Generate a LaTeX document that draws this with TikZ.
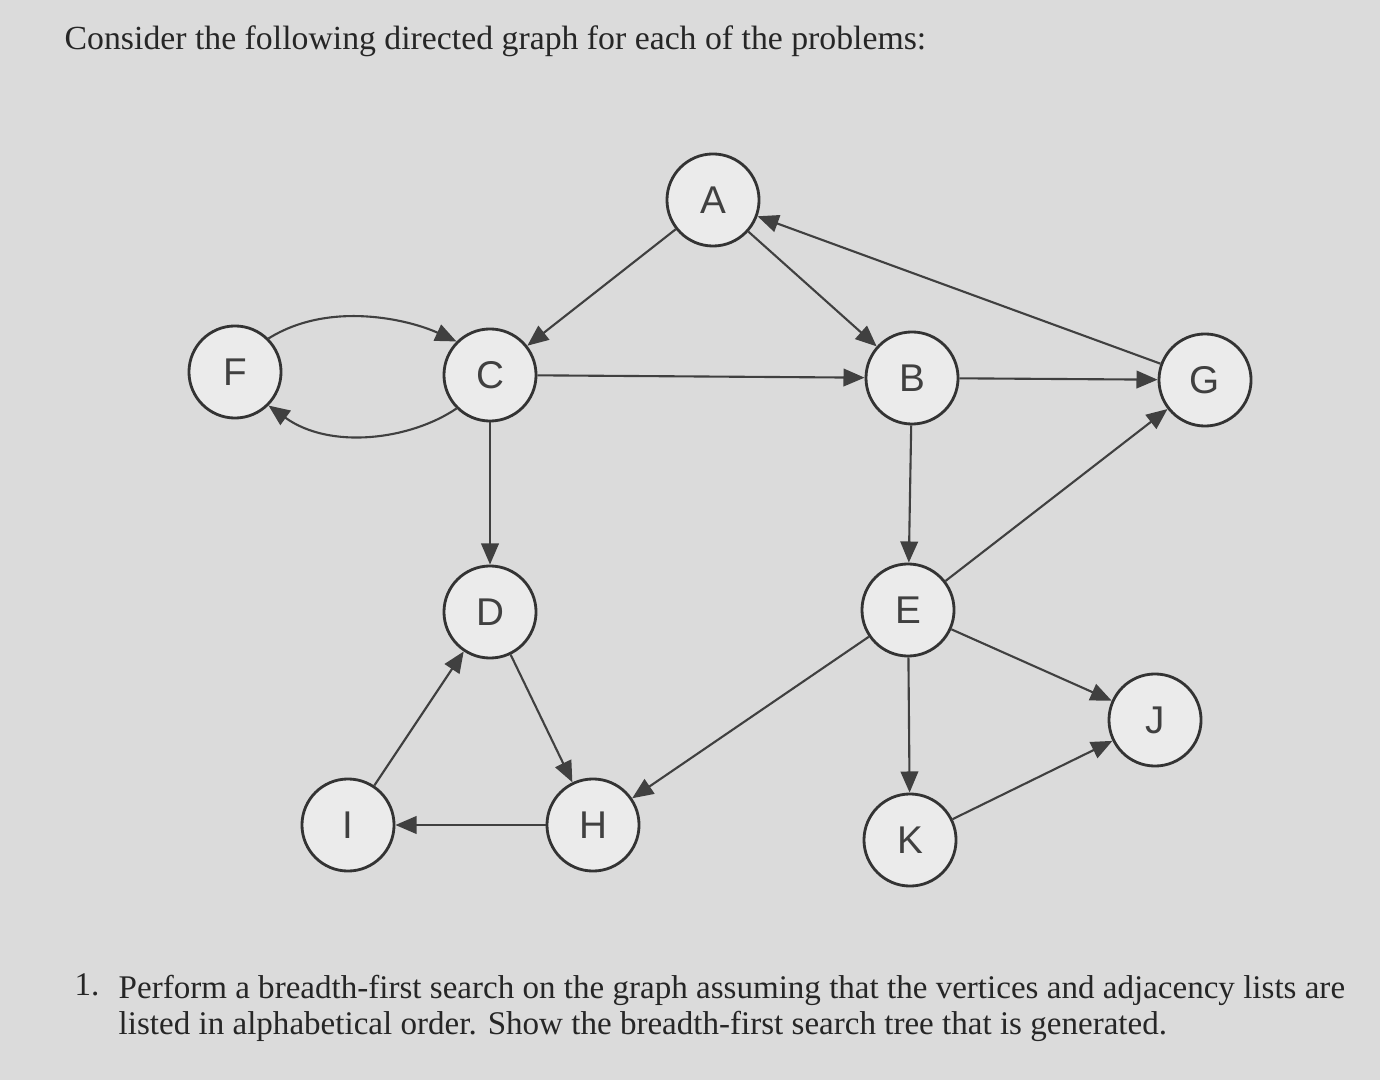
\documentclass[tikz,border=0pt]{standalone}
\usepackage{fontspec}
\setmainfont{Liberation Serif}
\newfontfamily\lsans{Liberation Sans}
\usetikzlibrary{arrows.meta}
\begin{document}
\begin{tikzpicture}[x=0.01cm,y=-0.01cm,
  vtx/.style={circle,draw=black!80,line width=0.8pt,fill=black!8,minimum size=0.92cm,inner sep=0pt,font=\lsans\fontsize{11}{13}\selectfont,text=black!75},
  edge/.style={-{Triangle[length=6pt,width=5pt]},draw=black!75,line width=0.6pt},
  txt/.style={anchor=base west,font=\fontsize{9.6}{12}\selectfont,text=black!85,inner sep=0pt}]
\fill[black!14] (0,0) rectangle (1380,1080);
\useasboundingbox (0,0) rectangle (1380,1080);
\node[txt] (title) at (64,50) {Consider the following directed graph for each of the problems:};
\node (A) [vtx] at (713,200) {A};
\node (F) [vtx] at (235,372) {F};
\node (C) [vtx] at (490,375) {C};
\node (B) [vtx] at (912,378) {B};
\node (G) [vtx] at (1205,380) {G};
\node (D) [vtx] at (490,612) {D};
\node (E) [vtx] at (908,610) {E};
\node (J) [vtx] at (1155,720) {J};
\node (I) [vtx] at (348,825) {I};
\node (H) [vtx] at (593,825) {H};
\node (K) [vtx] at (910,840) {K};
\draw[edge] (A) -- (C);
\draw[edge] (A) -- (B);
\draw[edge] (G) -- (A);
\draw[edge] (F.north east) .. controls (330,300) and (410,320) .. (C.north west);
\draw[edge] (C.south west) .. controls (410,440) and (330,450) .. (F.south east);
\draw[edge] (C) -- (B);
\draw[edge] (B) -- (G);
\draw[edge] (C) -- (D);
\draw[edge] (B) -- (E);
\draw[edge] (E) -- (G);
\draw[edge] (E) -- (J);
\draw[edge] (E) -- (H);
\draw[edge] (E) -- (K);
\draw[edge] (K) -- (J);
\draw[edge] (D) -- (H);
\draw[edge] (H) -- (I);
\draw[edge] (I) -- (D);
\node[txt,font=\fontsize{9.4}{12}\selectfont] (qn) at (74,995) {1.};
\node[txt,font=\fontsize{9.4}{12}\selectfont] (q1) at (118,998) {Perform a breadth-first search on the graph assuming that the vertices and adjacency lists are};
\node[txt,font=\fontsize{9.4}{12}\selectfont] (q2) at (118,1034) {listed in alphabetical order. Show the breadth-first search tree that is generated.};
\end{tikzpicture}
\end{document}
